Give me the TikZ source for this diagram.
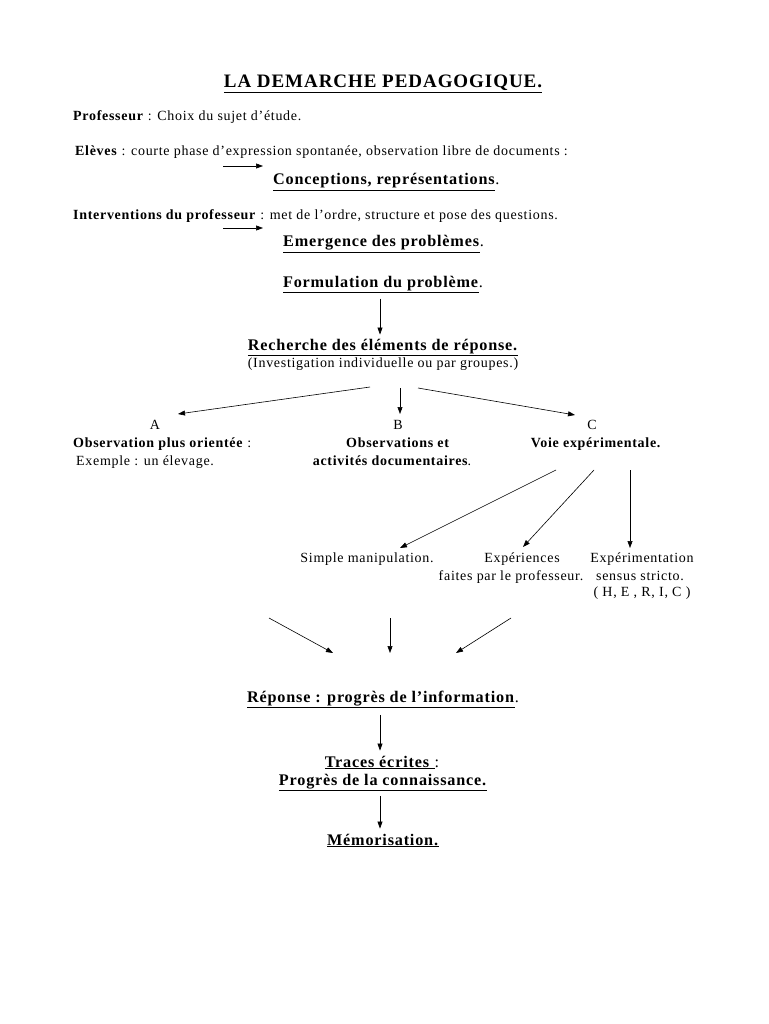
\documentclass[tikz,border=0pt]{standalone}
\usepackage{fontspec}
\setmainfont{Liberation Serif}[LetterSpace=5]
\usetikzlibrary{arrows.meta}

\tikzset{
    arr/.style={semithick, -{Triangle[length=7pt, width=5pt]}},
    txt/.style={inner sep=0pt, anchor=base},
    ltxt/.style={inner sep=0pt, anchor=base west},
    head/.style={font=\fontsize{16.2}{19}\selectfont},
}

\begin{document}
\begin{tikzpicture}[x=1pt, y=-1pt, font=\fontsize{14}{16}\selectfont]
\useasboundingbox (0,0) rectangle (768,1024);
\node[txt, font=\fontsize{19}{22}\selectfont\bfseries] (titre) at (383,88) {\underline{LA DEMARCHE PEDAGOGIQUE.}};
\node[ltxt] (prof) at (73,121) {\textbf{Professeur} : Choix du sujet d’étude.};
\node[ltxt] (eleves) at (75,156) {\textbf{Elèves} : courte phase d’expression spontanée, observation libre de documents :};
\node[ltxt, head] (concep) at (273,185) {\underline{\textbf{Conceptions, représentations}}.};
\node[ltxt] (interv) at (73,219) {\textbf{Interventions du professeur} : met de l’ordre, structure et pose des questions.};
\node[ltxt, head] (emerg) at (283,247) {\underline{\textbf{Emergence des problèmes}}.};
\node[txt, head] (formul) at (383,287) {\underline{\textbf{Formulation du problème}}.};
\node[txt, head] (recher) at (383,350) {\underline{\textbf{Recherche des éléments de réponse.}}};
\node[txt] (invest) at (383,367) {(Investigation individuelle ou par groupes.)};
% les trois voies
\node[txt] (A) at (155,429) {A};
\node[txt] (B) at (398,429) {B};
\node[txt] (C) at (592,429) {C};
\node[ltxt] (obsA) at (73,447) {\textbf{Observation plus orientée} :};
\node[ltxt] (exA) at (76,465) {Exemple : un élevage.};
\node[txt] (obsB) at (398,447) {\textbf{Observations et}};
\node[txt] (docB) at (392,465) {\textbf{activités documentaires}.};
\node[txt] (voieC) at (596,447) {\textbf{Voie expérimentale.}};
\node[txt] (simple) at (367,562) {Simple manipulation.};
\node[txt] (exper) at (522,562) {Expériences};
\node[txt] (faites) at (511,580) {faites par le professeur.};
\node[txt] (experim) at (642,562) {Expérimentation};
\node[txt] (sensus) at (640,580) {sensus stricto.};
\node[txt] (hercl) at (642,596) {( H, E , R, I, C )};
\node[txt, head] (repon) at (383,702) {\underline{\textbf{Réponse : progrès de l’information}}.};
\node[txt, head] (traces) at (382,767) {\underline{\textbf{Traces écrites }}:};
\node[txt, head] (progr) at (383,785) {\underline{\textbf{Progrès de la connaissance.}}};
\node[txt, head] (memo) at (383,845) {\underline{\textbf{Mémorisation.}}};
% points libres des fleches
\coordinate (e1) at (223,166);
\coordinate (e2) at (223,228);
\coordinate (r1) at (370,387);
\coordinate (r2) at (400,388);
\coordinate (r3) at (418,388);
\coordinate (a1) at (178,414);
\coordinate (a2) at (400,414);
\coordinate (a3) at (575,415);
\coordinate (v1) at (556,470);
\coordinate (v2) at (594,470);
\coordinate (v3) at (630,470);
\coordinate (s1) at (400,548);
\coordinate (s2) at (523,547);
\coordinate (s3) at (630,548);
\coordinate (m1) at (269,618);
\coordinate (m2) at (390,618);
\coordinate (m3) at (511,618);
\coordinate (n1) at (333,653);
\coordinate (n2) at (390,653);
\coordinate (n3) at (456,653);
% fleches
\draw[arr, shorten >=10pt] (e1) -- (e1 -| concep.west);
\draw[arr, shorten >=20pt] (e2) -- (e2 -| emerg.west);
\draw[arr, shorten <=6pt, shorten >=4pt] (formul.south -| 380,0) -- (recher.north -| 380,0);
\draw[arr] (r1) -- (a1);
\draw[arr] (r2) -- (a2);
\draw[arr] (r3) -- (a3);
\draw[arr] (v1) -- (s1);
\draw[arr] (v2) -- (s2);
\draw[arr] (v3) -- (s3);
\draw[arr] (m1) -- (n1);
\draw[arr] (m2) -- (n2);
\draw[arr] (m3) -- (n3);
\draw[arr, shorten <=7pt, shorten >=5pt] (repon.south -| 380,0) -- (traces.north -| 380,0);
\draw[arr, shorten <=5pt, shorten >=5pt] (progr.south -| 380,0) -- (memo.north -| 380,0);
\end{tikzpicture}
\end{document}
